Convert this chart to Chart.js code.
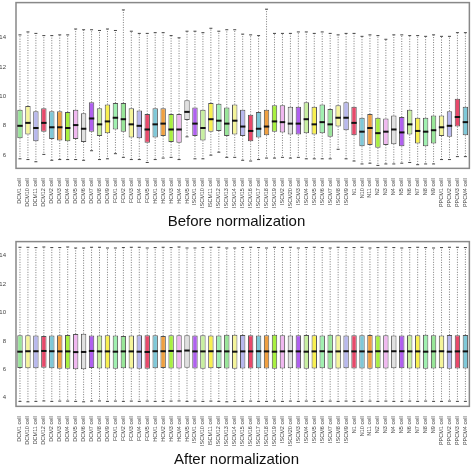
<!DOCTYPE html>
<html>
<head>
<meta charset="utf-8">
<script src="https://cdn.jsdelivr.net/npm/chart.js@4/dist/chart.umd.min.js"></script>
<style>
body{margin:0;background:#fff;width:474px;height:474px;overflow:hidden;font-family:"Liberation Sans",Arial,sans-serif}
.box{position:absolute;left:0;width:474px}
</style>
</head>
<body>
<div class="box" style="top:-3px;height:239px"><canvas id="before"></canvas></div>
<div class="box" style="top:236px;height:238px"><canvas id="after"></canvas></div>
<script>
// sample names
var samples = ["DCM1","DCM10","DCM11","DCM12","DCM2","DCM3","DCM4","DCM5","DCM6","DCM7","DCM8","DCM9",
  "FCM1","FCM2","FCM3","FCM4","FCM5","HCM1","HCM2","HCM3","HCM4","HCM5",
  "ISCM1","ISCM10","ISCM11","ISCM12","ISCM13","ISCM14","ISCM15","ISCM16","ISCM17","ISCM18","ISCM19","ISCM2","ISCM20",
  "ISCM3","ISCM4","ISCM5","ISCM6","ISCM7","ISCM8","ISCM9",
  "N1","N10","N11","N2","N3","N4","N5","N6","N7","N8","N9","PPCM1","PPCM2","PPCM3","PPCM4"];
var labels = samples.map(function(s){ return s + " cell"; });

// box colours, repeating
var palette = ["#98e698","#f5f59a","#b8b8ee","#e8486a","#7ec8d8","#f0a040","#a8f040","#f0b8f0","#e0e0e0","#b060f0","#c8f0a0","#f8f050","#a0f0b0"];

// before normalization
var b_med = [8.0,8.2,7.85,8.2,7.9,7.9,7.85,8.05,7.8,8.5,8.1,8.3,8.55,8.45,8.1,8.0,7.75,8.1,8.15,7.75,7.75,8.95,8.15,7.85,8.45,8.35,8.15,8.35,
  7.95,7.65,7.8,7.95,8.3,8.25,8.15,8.15,8.45,8.1,8.25,8.1,8.55,8.55,8.2,7.6,7.85,7.5,7.6,7.75,7.55,8.1,7.65,7.6,7.7,7.9,8.0,8.6,8.25];
var b_q1 = [7.15,7.4,6.95,7.6,7.1,7.0,6.95,7.1,6.9,7.6,7.3,7.5,7.75,7.6,7.2,7.15,6.85,7.2,7.3,6.9,6.85,8.4,7.3,7.0,7.6,7.65,7.3,7.4,
  7.3,6.95,7.2,7.35,7.6,7.55,7.4,7.4,7.5,7.4,7.5,7.25,7.95,7.7,7.35,6.6,6.7,6.5,6.7,6.75,6.6,7.4,6.8,6.6,6.8,7.3,7.25,7.95,7.35];
var b_q3 = [9.1,9.35,9.0,9.2,9.0,9.0,8.95,9.1,8.85,9.6,9.2,9.45,9.55,9.55,9.2,9.05,8.8,9.2,9.2,8.8,8.8,9.75,9.25,9.1,9.55,9.5,9.25,9.45,
  9.1,8.75,8.95,9.1,9.4,9.4,9.3,9.3,9.6,9.3,9.45,9.15,9.4,9.6,9.3,8.55,8.8,8.55,8.5,8.7,8.6,9.1,8.55,8.55,8.7,8.7,9.0,9.85,9.3];
var b_hi = [14.2,14.4,14.3,14.15,14.15,14.2,14.2,14.6,14.55,14.55,14.5,14.6,14.5,15.9,14.45,14.3,14.3,14.35,14.35,14.15,14.0,14.45,14.45,14.35,14.65,14.45,14.55,14.55,
  14.25,14.2,14.15,15.95,14.3,14.3,14.3,14.4,14.4,14.3,14.4,14.3,14.2,14.3,14.3,14.1,14.2,14.15,13.9,14.2,14.2,14.15,14.15,14.1,14.2,14.1,14.1,14.35,14.35];
var b_lo = [5.75,5.7,5.55,6.05,5.65,5.7,5.7,5.7,5.65,6.3,5.7,5.75,6.1,5.85,5.7,5.7,5.5,5.7,5.8,5.85,5.7,7.25,5.75,5.75,6.0,6.2,5.85,5.85,
  5.65,5.6,5.7,5.8,5.8,5.85,5.8,5.85,5.75,5.75,5.75,5.75,6.4,5.75,5.6,5.4,5.45,5.3,5.4,5.4,5.45,5.5,5.35,5.4,5.4,5.7,5.7,5.9,5.9];

// after normalization
var a_med = [7.25,7.28,7.28,7.3,7.28,7.27,7.27,7.22,7.23,7.3,7.27,7.27,7.25,7.27,7.27,7.25,7.23,7.28,7.28,7.3,7.28,7.33,7.27,7.27,7.28,7.28,7.27,7.25,
  7.27,7.27,7.28,7.27,7.25,7.27,7.28,7.27,7.25,7.27,7.28,7.25,7.27,7.28,7.27,7.27,7.25,7.28,7.27,7.28,7.28,7.27,7.27,7.25,7.27,7.28,7.25,7.27,7.27];
var a_q1 = [6.1,6.08,6.08,6.12,6.08,6.05,6.05,6.02,6.02,6.1,6.07,6.07,6.05,6.08,6.07,6.05,6.05,6.08,6.1,6.07,6.07,6.12,6.07,6.05,6.08,6.1,6.07,6.05,
  6.07,6.07,6.08,6.07,6.05,6.07,6.08,6.07,6.05,6.07,6.08,6.05,6.07,6.08,6.07,6.07,6.05,6.08,6.07,6.08,6.08,6.07,6.07,6.05,6.07,6.08,6.05,6.07,6.07];
var a_q3 = [8.4,8.4,8.38,8.36,8.38,8.4,8.42,8.5,8.52,8.38,8.38,8.4,8.38,8.36,8.38,8.4,8.4,8.4,8.36,8.4,8.4,8.4,8.38,8.4,8.38,8.38,8.44,8.44,
  8.42,8.4,8.38,8.4,8.44,8.4,8.38,8.4,8.42,8.4,8.38,8.44,8.4,8.38,8.4,8.4,8.42,8.38,8.4,8.38,8.38,8.4,8.4,8.44,8.4,8.38,8.42,8.4,8.42];
var a_hi = [14.6,14.6,14.58,14.62,14.58,14.58,14.62,14.55,14.55,14.6,14.6,14.55,14.55,14.58,14.6,14.6,14.55,14.58,14.6,14.58,14.62,14.55,14.55,14.58,14.6,14.6,14.55,14.55,
  14.58,14.6,14.58,14.55,14.6,14.58,14.6,14.55,14.58,14.6,14.58,14.55,14.6,14.58,14.58,14.6,14.55,14.58,14.6,14.58,14.55,14.58,14.6,14.58,14.55,14.58,14.6,14.6,14.58];
var a_lo = [3.75,3.72,3.75,3.78,3.75,3.77,3.77,3.75,3.72,3.77,3.78,3.75,3.77,3.75,3.77,3.75,3.77,3.75,3.75,3.77,3.78,3.75,3.77,3.75,3.77,3.75,3.72,3.75,
  3.75,3.77,3.75,3.75,3.77,3.75,3.77,3.75,3.77,3.75,3.75,3.77,3.75,3.77,3.75,3.75,3.77,3.75,3.77,3.75,3.75,3.77,3.75,3.77,3.75,3.75,3.77,3.75,3.75];

// whiskers, medians and frame drawn with the chart's own scales
var boxPlugin = {
  id: "boxExtras",
  afterDatasetsDraw: function(chart) {
    var ctx = chart.ctx, x = chart.scales.x, y = chart.scales.y;
    var ex = chart.options.plugins.boxExtras;
    var meta = chart.getDatasetMeta(0);
    ctx.save();
    for (var i = 0; i < labels.length; i++) {
      var cx = x.getPixelForValue(i);
      var hw = meta.data[i].width / 2;
      ctx.strokeStyle = "#444";
      ctx.lineWidth = 0.7;
      ctx.setLineDash([1, 1.5]);
      ctx.beginPath();
      ctx.moveTo(cx, y.getPixelForValue(ex.q3[i])); ctx.lineTo(cx, y.getPixelForValue(ex.hi[i]));
      ctx.moveTo(cx, y.getPixelForValue(ex.q1[i])); ctx.lineTo(cx, y.getPixelForValue(ex.lo[i]));
      ctx.stroke();
      ctx.setLineDash([]);
      ctx.lineWidth = 1;
      ctx.beginPath();
      ctx.moveTo(cx - 1.5, y.getPixelForValue(ex.hi[i])); ctx.lineTo(cx + 1.5, y.getPixelForValue(ex.hi[i]));
      ctx.moveTo(cx - 1.5, y.getPixelForValue(ex.lo[i])); ctx.lineTo(cx + 1.5, y.getPixelForValue(ex.lo[i]));
      ctx.stroke();
      ctx.strokeStyle = "#111";
      ctx.lineWidth = 2;
      ctx.beginPath();
      ctx.moveTo(cx - hw, y.getPixelForValue(ex.med[i])); ctx.lineTo(cx + hw, y.getPixelForValue(ex.med[i]));
      ctx.stroke();
    }
    var a = chart.chartArea;
    ctx.strokeStyle = "#888";
    ctx.lineWidth = 1.5;
    ctx.strokeRect(a.left, a.top, a.right - a.left, a.bottom - a.top);
    ctx.restore();
  }
};

function makeChart(id, title, q1, q3, med, lo, hi, ymin, ymax, ticks) {
  return new Chart(document.getElementById(id), {
    type: "bar",
    data: {
      labels: labels,
      datasets: [{
        data: q1.map(function(v, i){ return [v, q3[i]]; }),
        backgroundColor: labels.map(function(l, i){ return palette[i % palette.length]; }),
        borderColor: "#555",
        borderWidth: 1,
        borderSkipped: false,
        categoryPercentage: 1,
        barPercentage: 0.68
      }]
    },
    options: {
      responsive: true,
      maintainAspectRatio: false,
      animation: false,
      layout: { padding: { left: 0, right: 1, top: 1, bottom: 0 } },
      plugins: {
        legend: { display: false },
        tooltip: { enabled: false },
        title: { display: true, text: title, position: "bottom", color: "#111",
                 font: { size: 15, weight: "normal", family: "Liberation Sans" }, padding: { top: 3, bottom: 5 } },
        boxExtras: { q1: q1, q3: q3, med: med, lo: lo, hi: hi }
      },
      scales: {
        x: {
          grid: { display: false },
          border: { display: false },
          offset: true,
          ticks: { autoSkip: false, minRotation: 90, maxRotation: 90, color: "#444",
                   font: { size: 5.5, family: "Liberation Sans" }, padding: 2 }
        },
        y: {
          min: ymin, max: ymax,
          afterFit: function(s){ s.width = 16; },
          grid: { display: false, drawTicks: true },
          border: { display: false },
          afterBuildTicks: function(s){ s.ticks = ticks.map(function(v){ return { value: v }; }); },
          ticks: { color: "#444", font: { size: 6, family: "Liberation Sans" }, padding: 2 }
        }
      }
    },
    plugins: [boxPlugin]
  });
}

makeChart("before", "Before normalization", b_q1, b_q3, b_med, b_lo, b_hi, 5.1, 16.4, [6, 8, 10, 12, 14]);
makeChart("after", "After normalization", a_q1, a_q3, a_med, a_lo, a_hi, 3.4, 15.0, [4, 6, 8, 10, 12, 14]);
</script>
</body>
</html>
